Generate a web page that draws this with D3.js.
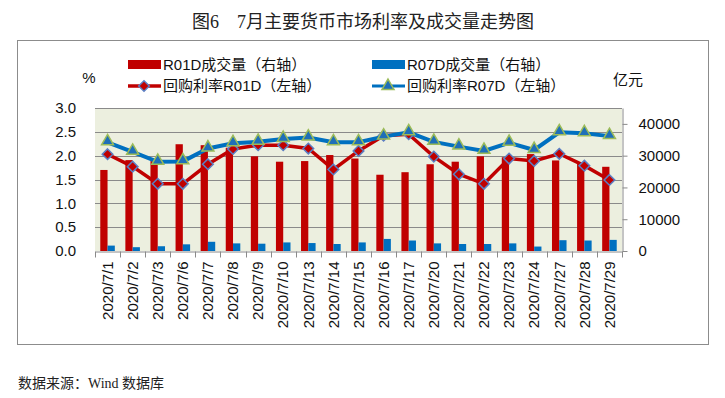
<!DOCTYPE html>
<html>
<head>
<meta charset="utf-8">
<script src="https://cdn.jsdelivr.net/npm/d3@7"></script>
<style>
  body { margin: 0; background: #fff; }
  svg { display: block; }
</style>
</head>
<body>
<div id="chart"></div>
<script>
const dates = ['2020/7/1', '2020/7/2', '2020/7/3', '2020/7/6', '2020/7/7', '2020/7/8', '2020/7/9',
  '2020/7/10', '2020/7/13', '2020/7/14', '2020/7/15', '2020/7/16', '2020/7/17', '2020/7/20',
  '2020/7/21', '2020/7/22', '2020/7/23', '2020/7/24', '2020/7/27', '2020/7/28', '2020/7/29'];

// 成交量 (亿元, right axis)
const r01dVolume = [25500, 28600, 28300, 33600, 33300, 32500, 29800, 28100, 28300, 30200, 29100,
  24000, 24800, 27300, 28100, 29800, 29500, 30500, 28500, 27600, 26500];
const r07dVolume = [1700, 1200, 1500, 2100, 2900, 2400, 2300, 2700, 2500, 2200, 2700,
  3800, 3300, 2400, 2200, 2200, 2400, 1400, 3400, 3300, 3500];

// 回购利率 (%, left axis)
const r01dRate = [2.03, 1.77, 1.41, 1.41, 1.82, 2.14, 2.22, 2.22, 2.15, 1.71, 2.10,
  2.42, 2.45, 1.98, 1.61, 1.41, 1.94, 1.89, 2.04, 1.79, 1.49];
const r07dRate = [2.28, 2.08, 1.87, 1.88, 2.15, 2.26, 2.29, 2.35, 2.38, 2.28, 2.28,
  2.40, 2.49, 2.29, 2.19, 2.10, 2.27, 2.12, 2.49, 2.47, 2.41];

const leftTicks = [0, 0.5, 1.0, 1.5, 2.0, 2.5, 3.0];
const rightTicks = [0, 10000, 20000, 30000, 40000];

const width = 725, height = 398;
const plot = { left: 95, right: 622, top: 108, bottom: 251 };

const red = '#C00000', blue = '#0070C0', grid = '#8a8a8a';
const cjk = '"Liberation Sans", "Noto Sans CJK SC", sans-serif';
const serif = '"Liberation Serif", "Noto Sans CJK SC", serif';

const svg = d3.select('#chart').append('svg')
  .attr('width', width)
  .attr('height', height);

// title + outer frame
svg.append('text')
  .attr('x', 363).attr('y', 28)
  .attr('text-anchor', 'middle')
  .style('font-family', serif)
  .style('font-size', '18px')
  .attr('fill', '#222')
  .text('图6　7月主要货币市场利率及成交量走势图');

svg.append('rect')
  .attr('x', 17.5).attr('y', 40.5)
  .attr('width', 691).attr('height', 304)
  .attr('fill', 'none')
  .attr('stroke', '#8c8c8c');

// scales
const x = d3.scaleBand()
  .domain(dates)
  .range([plot.left, plot.right]);

const yLeft = d3.scaleLinear()
  .domain([0, 3])
  .range([plot.bottom, plot.top]);

const yRight = d3.scaleLinear()
  .domain([0, 45000])
  .range([plot.bottom, plot.top]);

const barW = x.step() * 0.29;
const cx = d => x(d) + x.bandwidth() / 2;

svg.append('rect')
  .attr('x', plot.left).attr('y', plot.top)
  .attr('width', plot.right - plot.left).attr('height', plot.bottom - plot.top)
  .attr('fill', '#ECEFDF');

// horizontal grid
svg.append('g')
  .selectAll('line')
  .data(leftTicks.slice(1))
  .enter()
  .append('line')
    .attr('x1', plot.left).attr('x2', plot.right)
    .attr('y1', d => Math.round(yLeft(d)) + 0.5)
    .attr('y2', d => Math.round(yLeft(d)) + 0.5)
    .attr('stroke', grid);

// bars
svg.append('g')
  .selectAll('rect')
  .data(dates)
  .enter()
  .append('rect')
    .attr('x', (d) => cx(d) - barW)
    .attr('y', (d, i) => yRight(r01dVolume[i]))
    .attr('width', barW)
    .attr('height', (d, i) => plot.bottom - yRight(r01dVolume[i]))
    .attr('fill', red);

svg.append('g')
  .selectAll('rect')
  .data(dates)
  .enter()
  .append('rect')
    .attr('x', (d) => cx(d))
    .attr('y', (d, i) => yRight(r07dVolume[i]))
    .attr('width', barW)
    .attr('height', (d, i) => plot.bottom - yRight(r07dVolume[i]))
    .attr('fill', blue);

// axes
const leftAxis = d3.axisLeft(yLeft)
  .tickValues(leftTicks)
  .tickSize(0)
  .tickPadding(19)
  .tickFormat(d3.format('.1f'));

svg.append('g')
  .attr('transform', 'translate(' + plot.left + ',0)')
  .call(leftAxis)
  .call(g => g.select('.domain').remove())
  .selectAll('text')
    .style('font-family', cjk)
    .style('font-size', '15px')
    .attr('fill', '#111');

const rightAxis = d3.axisRight(yRight)
  .tickValues(rightTicks)
  .tickSize(5)
  .tickPadding(11)
  .tickSizeOuter(0)
  .tickFormat(d3.format('d'));

svg.append('g')
  .attr('transform', 'translate(' + (plot.right + 0.5) + ',0)')
  .call(rightAxis)
  .call(g => g.selectAll('line, path').attr('stroke', grid))
  .selectAll('text')
    .style('font-family', cjk)
    .style('font-size', '15px')
    .attr('fill', '#111');

// x axis: ticks at category boundaries
const bottomAxis = d3.axisBottom(x).tickSize(0).tickSizeOuter(0);

const xg = svg.append('g')
  .attr('transform', 'translate(0,' + (plot.bottom + 0.5) + ')')
  .call(bottomAxis);
xg.select('.domain').attr('stroke', grid);
xg.selectAll('text')
  .attr('transform', 'rotate(-90)')
  .attr('x', -10)
  .attr('y', 0)
  .attr('dy', '0.35em')
  .attr('text-anchor', 'end')
  .style('font-family', cjk)
  .style('font-size', '15px')
  .attr('fill', '#111');

xg.selectAll('line.boundary')
  .data(dates.concat(['end']))
  .enter()
  .append('line')
    .attr('class', 'boundary')
    .attr('x1', (d, i) => Math.round(plot.left + i * x.step()) + 0.5)
    .attr('x2', (d, i) => Math.round(plot.left + i * x.step()) + 0.5)
    .attr('y1', 0).attr('y2', 6)
    .attr('stroke', grid);

// rate lines
const diamond = d3.symbol().type(d3.symbolDiamond2).size(72);
const triangle = d3.symbol().type(d3.symbolTriangle).size(62);

svg.append('path')
  .datum(r01dRate)
  .attr('fill', 'none')
  .attr('stroke', red)
  .attr('stroke-width', 3.5)
  .attr('d', d3.line()
    .x((d, i) => cx(dates[i]))
    .y(d => yLeft(d)));

svg.append('g')
  .selectAll('path')
  .data(r01dRate)
  .enter()
  .append('path')
    .attr('d', diamond)
    .attr('transform', (d, i) => 'translate(' + cx(dates[i]) + ',' + yLeft(d) + ')')
    .attr('fill', red)
    .attr('stroke', '#5B7FC4')
    .attr('stroke-width', 1.5);

svg.append('path')
  .datum(r07dRate)
  .attr('fill', 'none')
  .attr('stroke', blue)
  .attr('stroke-width', 4)
  .attr('d', d3.line()
    .x((d, i) => cx(dates[i]))
    .y(d => yLeft(d)));

svg.append('g')
  .selectAll('path')
  .data(r07dRate)
  .enter()
  .append('path')
    .attr('d', triangle)
    .attr('transform', (d, i) => 'translate(' + cx(dates[i]) + ',' + (yLeft(d) - 1) + ')')
    .attr('fill', '#1F6FB8')
    .attr('stroke', '#9BBB59')
    .attr('stroke-width', 1.5);

// axis units
svg.append('text')
  .attr('x', 89).attr('y', 83)
  .attr('text-anchor', 'middle')
  .style('font-family', cjk)
  .style('font-size', '15px')
  .attr('fill', '#111')
  .text('%');

svg.append('text')
  .attr('x', 628).attr('y', 85)
  .attr('text-anchor', 'middle')
  .style('font-family', cjk)
  .style('font-size', '15px')
  .attr('fill', '#111')
  .text('亿元');

// legend
const legend = svg.append('g').style('font-family', cjk).style('font-size', '15px');

const legendItems = [
  { label: 'R01D成交量（右轴）', x: 128, y: 65, kind: 'bar', color: red },
  { label: 'R07D成交量（右轴）', x: 372, y: 65, kind: 'bar', color: blue },
  { label: '回购利率R01D（左轴）', x: 128, y: 86, kind: 'diamond', color: red },
  { label: '回购利率R07D（左轴）', x: 372, y: 86, kind: 'triangle', color: blue }
];

legendItems.forEach(item => {
  if (item.kind === 'bar') {
    legend.append('rect')
      .attr('x', item.x).attr('y', item.y - 5)
      .attr('width', 33).attr('height', 9)
      .attr('fill', item.color);
  } else {
    legend.append('line')
      .attr('x1', item.x).attr('x2', item.x + 33)
      .attr('y1', item.y).attr('y2', item.y)
      .attr('stroke', item.color)
      .attr('stroke-width', item.kind === 'diamond' ? 3.5 : 3);
    legend.append('path')
      .attr('d', item.kind === 'diamond' ? diamond() : triangle())
      .attr('transform', 'translate(' + (item.x + 16) + ',' + item.y + ')')
      .attr('fill', item.kind === 'diamond' ? red : '#1F6FB8')
      .attr('stroke', item.kind === 'diamond' ? '#5B7FC4' : '#9BBB59')
      .attr('stroke-width', 1.5);
  }
  legend.append('text')
    .attr('x', item.x + 35).attr('y', item.y)
    .attr('dy', '0.35em')
    .attr('fill', '#111')
    .text(item.label);
});

// source note
svg.append('text')
  .attr('x', 18).attr('y', 388)
  .style('font-family', serif)
  .style('font-size', '14px')
  .attr('fill', '#222')
  .text('数据来源：Wind 数据库');
</script>
</body>
</html>
